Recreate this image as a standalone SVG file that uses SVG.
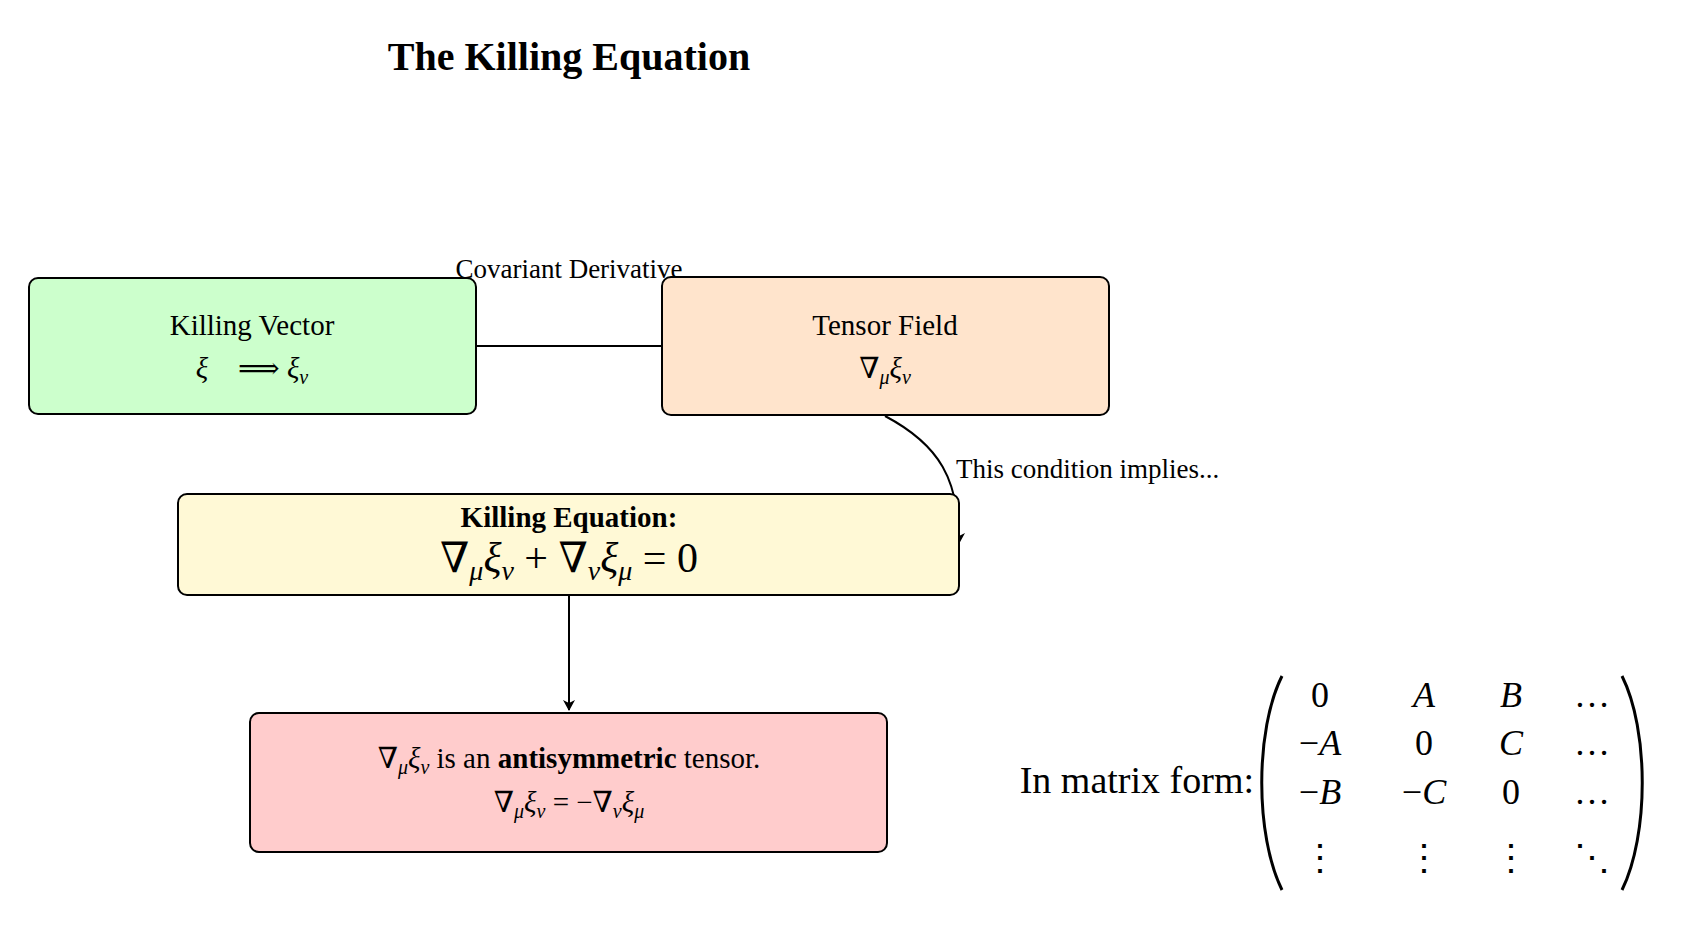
<svg xmlns="http://www.w3.org/2000/svg" width="1683" height="929" viewBox="0 0 1683 929">
<style>
text{font-family:"Liberation Serif","DejaVu Serif",serif;fill:#000}
.n{font-size:29px;text-anchor:middle}
.m{font-style:italic}
.box{stroke:#000;stroke-width:2}
.c{fill:none;stroke:#000;stroke-width:2}
</style>
<defs><marker id="ah" markerWidth="12" markerHeight="12" refX="10" refY="6" orient="auto" markerUnits="userSpaceOnUse"><path d="M0,0 L11,6 L0,12 L3,6 Z" fill="#000"/></marker></defs>
<rect width="1683" height="929" fill="#fff"/>
<text x="569" y="70" font-size="40" font-weight="bold" text-anchor="middle">The Killing Equation</text>
<g id="connectors">
<line class="c" x1="476" y1="346" x2="662" y2="346"/>
<path class="c" d="M885,416 C940,445 959,480 959,543" marker-end="url(#ah)"/>
<line class="c" x1="569" y1="595" x2="569" y2="710" marker-end="url(#ah)"/>
<text x="569" y="278" font-size="27" text-anchor="middle">Covariant Derivative</text>
<text x="956" y="478" font-size="27">This condition implies...</text>
</g>
<g id="killing-vector">
<rect class="box" x="29" y="278" width="447" height="136" rx="9" fill="#ccffcc"/>
<text class="n" x="252" y="335">Killing Vector</text>
<text class="n" x="252" y="378"><tspan class="m">ξ⃗</tspan>   ⟹   <tspan class="m">ξ<tspan font-size="20" dy="6">ν</tspan></tspan></text>
</g>
<g id="tensor-field">
<rect class="box" x="662" y="277" width="447" height="138" rx="9" fill="#ffe4cc"/>
<text class="n" x="885" y="335">Tensor Field</text>
<text class="n" x="885" y="378">∇<tspan class="m" font-size="20" dy="6">μ</tspan><tspan class="m" dy="-6">ξ</tspan><tspan class="m" font-size="20" dy="6">ν</tspan></text>
</g>
<g id="killing-equation">
<rect class="box" x="178" y="494" width="781" height="101" rx="9" fill="#fff9d6"/>
<text class="n" x="569" y="527" font-weight="bold">Killing Equation:</text>
<text x="569" y="572" font-size="42" text-anchor="middle">∇<tspan class="m" font-size="28" dy="8">μ</tspan><tspan class="m" dy="-8">ξ</tspan><tspan class="m" font-size="28" dy="8">ν</tspan><tspan dy="-8"> + ∇</tspan><tspan class="m" font-size="28" dy="8">ν</tspan><tspan class="m" dy="-8">ξ</tspan><tspan class="m" font-size="28" dy="8">μ</tspan><tspan dy="-8">   =   0</tspan></text>
</g>
<g id="antisymmetric">
<rect class="box" x="250" y="713" width="637" height="139" rx="9" fill="#ffcccc"/>
<text class="n" x="569" y="768">∇<tspan class="m" font-size="20" dy="6">μ</tspan><tspan class="m" dy="-6">ξ</tspan><tspan class="m" font-size="20" dy="6">ν</tspan><tspan dy="-6"> is an </tspan><tspan font-weight="bold">antisymmetric</tspan> tensor.</text>
<text class="n" x="569" y="812">∇<tspan class="m" font-size="20" dy="6">μ</tspan><tspan class="m" dy="-6">ξ</tspan><tspan class="m" font-size="20" dy="6">ν</tspan><tspan dy="-6">  =  −∇</tspan><tspan class="m" font-size="20" dy="6">ν</tspan><tspan class="m" dy="-6">ξ</tspan><tspan class="m" font-size="20" dy="6">μ</tspan></text>
</g>
<g id="matrix" font-size="36">
<text x="1254" y="793" font-size="38" text-anchor="end">In matrix form:</text>
<path d="M1282,676 C1255,730 1255,835 1282,890" fill="none" stroke="#000" stroke-width="3"/>
<path d="M1622,676 C1649,730 1649,835 1622,890" fill="none" stroke="#000" stroke-width="3"/>
<g text-anchor="middle">
<text x="1320" y="707">0</text><text x="1424" y="707" class="m">A</text><text x="1511" y="707" class="m">B</text><text x="1592" y="707">…</text>
<text x="1320" y="755">−<tspan class="m">A</tspan></text><text x="1424" y="755">0</text><text x="1511" y="755" class="m">C</text><text x="1592" y="755">…</text>
<text x="1320" y="804">−<tspan class="m">B</tspan></text><text x="1424" y="804">−<tspan class="m">C</tspan></text><text x="1511" y="804">0</text><text x="1592" y="804">…</text>
<text x="1320" y="870">⋮</text><text x="1424" y="870">⋮</text><text x="1511" y="870">⋮</text><text x="1592" y="870">⋱</text>
</g>
</g>
</svg>
